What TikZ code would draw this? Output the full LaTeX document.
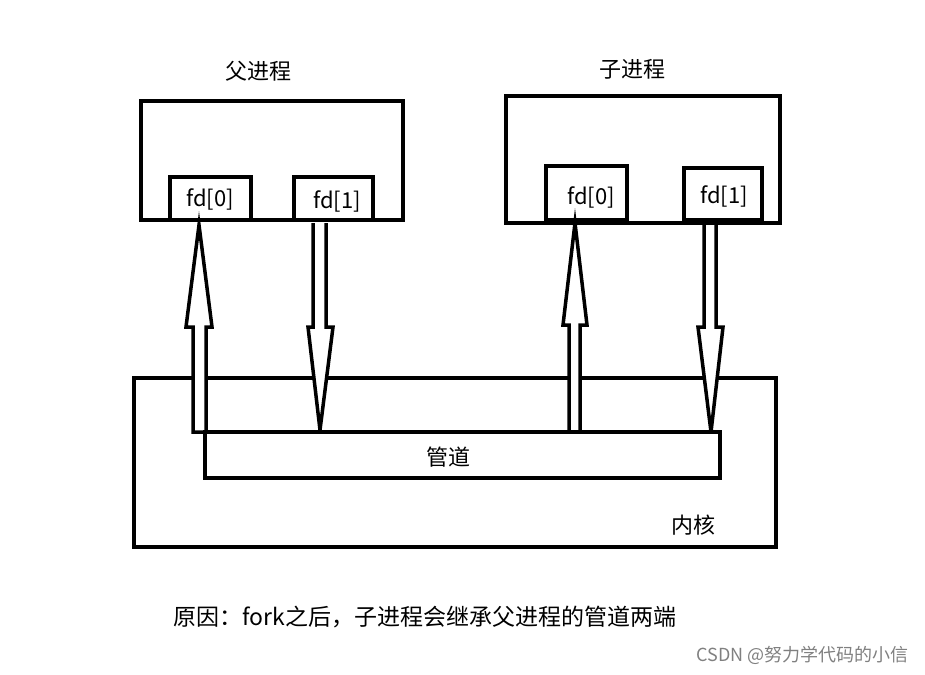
\documentclass[tikz,border=0pt]{standalone}
\usepackage{fontspec}
\setmainfont{Noto Sans CJK SC}
\begin{document}
\begin{tikzpicture}[x=1pt,y=-1pt,line width=4pt,
  box/.style={draw,line width=4pt},
  lbl/.style={font=\fontsize{22}{26}\selectfont},
  arr/.style={draw,line width=3.5pt,fill=white,line join=miter}]
\useasboundingbox (0,0) rectangle (925,674);
\draw[box] (141,101) rectangle (403,220);
\draw[box] (506,96) rectangle (780,223);
\draw[box] (134,378) rectangle (776,547);
\draw[box,fill=white] (170,177) rectangle (251,220);
\draw[box,fill=white] (294,177) rectangle (373,220);
\draw[box,fill=white] (546,166) rectangle (627,220);
\draw[box,fill=white] (684,168) rectangle (762,220);
\node[lbl] (f00) at (210,199) {fd[0]};
\node[lbl] (f01) at (337,201) {fd[1]};
\node[lbl] (f10) at (591,197) {fd[0]};
\node[lbl] (f11) at (724,196) {fd[1]};
\draw[arr] (193,432)--(193,327)--(186,327)--(199,225)--(212,327)--(206,327)--(206,432)--cycle;
\draw[arr] (313,223)--(313,327)--(308,327)--(320,430)--(333,327)--(326,327)--(326,223);
\draw[arr] (569,432)--(569,325)--(563,325)--(575,223)--(587,325)--(580,325)--(580,432);
\draw[arr] (704,225)--(704,327)--(698,327)--(711,432)--(723,327)--(716,327)--(716,225);
\draw[box,fill=white] (205,432) rectangle (720,478);
\node[lbl] (pipe) at (448,457) {管道};
\node[lbl] (kern) at (693,525) {内核};
\node[lbl] (par) at (258,71) {父进程};
\node[lbl] (chi) at (632,69) {子进程};
\node[font=\fontsize{23}{26}\selectfont,anchor=west] (cap) at (168,617) {原因：fork之后，子进程会继承父进程的管道两端};
\node[font=\fontsize{18}{20}\selectfont,text=gray,anchor=east] (wm) at (914,655) {CSDN @努力学代码的小信};
\end{tikzpicture}
\end{document}
